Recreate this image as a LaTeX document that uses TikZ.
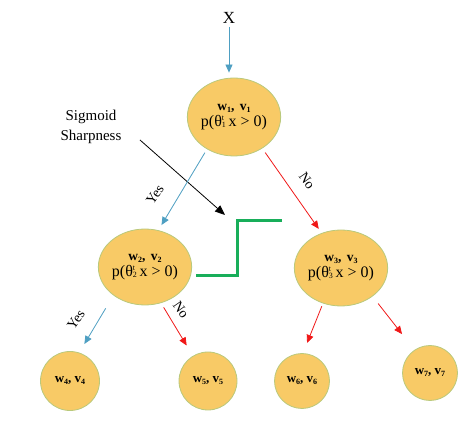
\documentclass[tikz,border=0pt]{standalone}
\usepackage{fontspec}
\setmainfont{Liberation Serif}
\usetikzlibrary{arrows.meta,shapes.geometric}
\definecolor{nodefill}{HTML}{F8CA66}
\definecolor{nodeedge}{HTML}{B9C97C}
\definecolor{blueedge}{HTML}{4E9FC2}
\definecolor{rededge}{HTML}{F01818}
\definecolor{stepgreen}{HTML}{18AE5A}
\newcommand{\sps}[2]{\makebox[0pt][l]{\raisebox{0.75ex}{\fontsize{8}{8}\selectfont #1}}\raisebox{-0.25ex}{\fontsize{8}{8}\selectfont #2}}
\newcommand{\sbs}[1]{\raisebox{-0.3ex}{\fontsize{8}{8}\selectfont #1}}
\tikzset{
  tnode/.style={ellipse,draw=nodeedge,fill=nodefill,line width=0.8pt,inner sep=0pt,align=center},
  leaf/.style={circle,draw=nodeedge,fill=nodefill,line width=0.8pt,inner sep=0pt,font=\bfseries\fontsize{13}{14}\selectfont},
  yesarrow/.style={draw=blueedge,line width=0.8pt,-{Triangle[length=8pt,width=7pt]},blueedge},
  noarrow/.style={draw=rededge,line width=0.8pt,-{Triangle[length=8pt,width=7pt]},rededge},
  elabel/.style={font=\fontsize{14}{15}\selectfont,inner sep=1pt}
}
\begin{document}
\begin{tikzpicture}[x=1pt,y=-1pt]
\useasboundingbox (0,0) rectangle (474,427);
\node[inner sep=1pt] (x) at (229,18) {\fontsize{17}{18}\selectfont X};
\node[tnode,minimum width=88pt,minimum height=78pt] (n1) at (234,117)
  {{\bfseries\fontsize{13.5}{14}\selectfont w\sbs{1},\hspace{2pt} v\sbs{1}}\\[1pt]{\fontsize{16}{17}\selectfont p(θ\sps{t}{1}\,x > 0)}};
\node[tnode,minimum width=81pt,minimum height=76pt] (n2) at (145,267)
  {{\bfseries\fontsize{13.5}{14}\selectfont w\sbs{2},\hspace{2pt} v\sbs{2}}\\[1pt]{\fontsize{16}{17}\selectfont p(θ\sps{t}{2}\,x > 0)}};
\node[tnode,minimum width=82pt,minimum height=76pt] (n3) at (341,268)
  {{\bfseries\fontsize{13.5}{14}\selectfont w\sbs{3},\hspace{2pt} v\sbs{3}}\\[1pt]{\fontsize{16}{17}\selectfont p(θ\sps{t}{3}\,x > 0)}};
\node[leaf,minimum size=59pt] (n4) at (70,381) {w\sbs{4}, v\sbs{4}};
\node[leaf,minimum size=58pt] (n5) at (208,381) {w\sbs{5}, v\sbs{5}};
\node[leaf,minimum size=55pt] (n6) at (302,381) {w\sbs{6}, v\sbs{6}};
\node[leaf,minimum size=55pt] (n7) at (430,373) {w\sbs{7}, v\sbs{7}};
\node[align=center,font=\fontsize{15}{20}\selectfont] (sig) at (91,127) {Sigmoid\\Sharpness};
% step function
\coordinate (s1) at (196,276);
\coordinate (s2) at (237,276);
\coordinate (s3) at (237,221);
\coordinate (s4) at (282,221);
\draw[stepgreen,line width=3pt] (s1) -- (s2) -- (s3) -- (s4);
\coordinate (sigtip) at (225,215);
\coordinate (sigstart) at (140,140);
\draw[line width=0.8pt,-{Triangle[length=10pt,width=8pt]}] (sigstart) -- (sigtip);
% arrows
\draw[yesarrow,shorten <=2pt,shorten >=5pt] (x.south) -- (x.south |- n1.north);
\draw[yesarrow,shorten <=4pt,shorten >=6pt] (n1.230) -- (n2.70);
\draw[noarrow,shorten <=5pt,shorten >=5pt] (n1.-48) -- (n3.119);
\draw[yesarrow,shorten <=15pt,shorten >=10pt] (n2.222) -- (n4.72);
\draw[noarrow,shorten <=5pt,shorten >=12pt] (n2.-66) -- (n5.121);
\draw[noarrow,shorten <=3pt,shorten >=11pt] (n3.-117) -- (n6.88);
\draw[noarrow,shorten <=9pt,shorten >=20pt] (n3.-42) -- (n7.124);
% labels
\node[elabel,rotate=55] (ly1) at (155,195) {Yes};
\node[elabel,rotate=-55] (ln1) at (307,181) {No};
\node[elabel,rotate=55] (ly2) at (76,320) {Yes};
\node[elabel,rotate=-55] (ln2) at (181,310) {No};
\end{tikzpicture}
\end{document}
